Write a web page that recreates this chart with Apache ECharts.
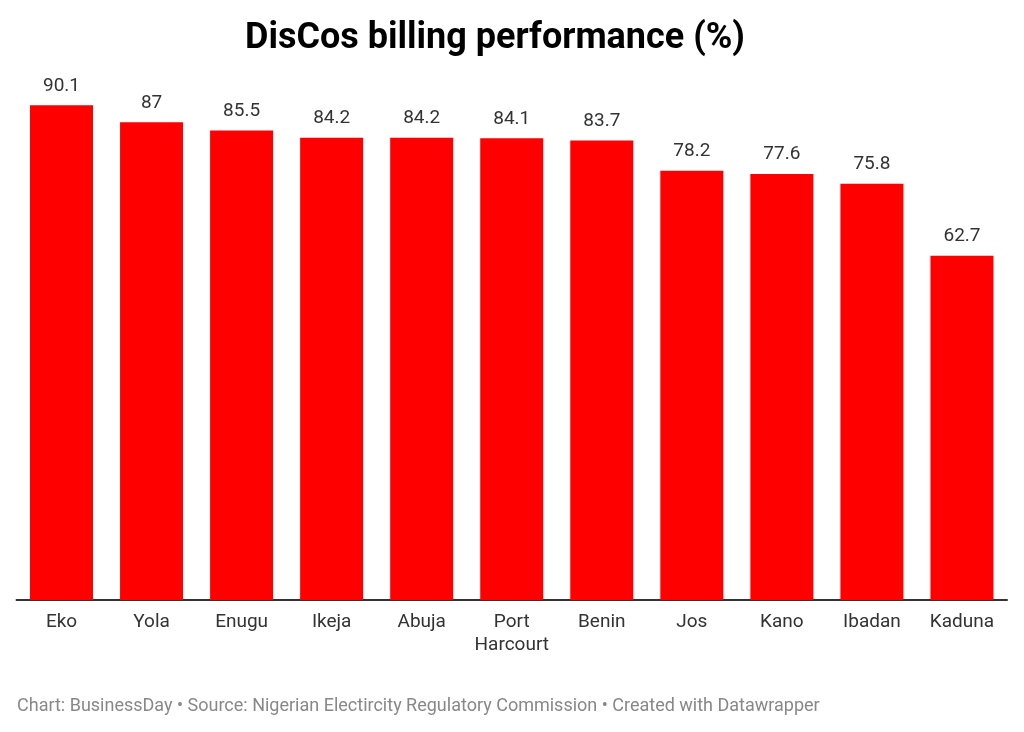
<!DOCTYPE html>
<html>
<head>
<meta charset="utf-8">
<script src="https://cdn.jsdelivr.net/npm/echarts@6/dist/echarts.min.js"></script>
<style>html,body{margin:0;padding:0;background:#fff;}#c{width:1024px;height:732px;}</style>
</head>
<body>
<div id="c"></div>
<script>
const categories = ["Eko","Yola","Enugu","Ikeja","Abuja","Port\nHarcourt","Benin","Jos","Kano","Ibadan","Kaduna"];
const values = [90.1, 87, 85.5, 84.2, 84.2, 84.1, 83.7, 78.2, 77.6, 75.8, 62.7];
const titleText = "DisCos billing performance (%)";
const footerText = "Chart: BusinessDay \u2022 Source: Nigerian Electircity Regulatory Commission \u2022 Created with Datawrapper";

const chart = echarts.init(document.getElementById('c'));
chart.setOption({
  animation: false,
  backgroundColor: '#fff',
  title: [{
    text: titleText,
    left: 495,
    textAlign: 'center',
    top: 21,
    padding: 0,
    textStyle: {fontFamily: 'Roboto', fontWeight: 'bold', fontSize: 36, color: '#000'}
  }, {
    text: footerText,
    left: 17,
    top: 697,
    padding: 0,
    textStyle: {fontFamily: 'Roboto', fontWeight: 'normal', fontSize: 18, color: '#888'}
  }],
  grid: {left: 16.5, right: 17, top: 51, bottom: 132, containLabel: false},
  xAxis: {
    type: 'category',
    data: categories,
    axisTick: {show: false},
    axisLine: {lineStyle: {color: '#333', width: 2}},
    axisLabel: {fontFamily: 'Roboto', fontSize: 19, color: '#333', margin: 11, lineHeight: 23, interval: 0}
  },
  yAxis: {
    type: 'value', min: 0, max: 100,
    show: false
  },
  series: [{
    type: 'bar',
    data: values,
    barWidth: '70%',
    itemStyle: {color: '#ff0000'},
    label: {show: true, position: 'top', distance: 10, fontFamily: 'Roboto', fontSize: 19, color: '#333'}
  }]
});
</script>
</body>
</html>
